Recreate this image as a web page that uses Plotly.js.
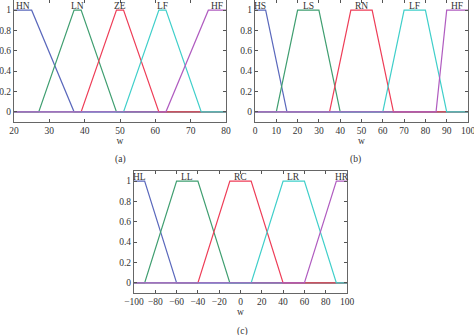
<!DOCTYPE html>
<html>
<head>
<meta charset="utf-8">
<script src="https://cdn.plot.ly/plotly-3.0.1.min.js"></script>
<style>html,body{margin:0;padding:0;background:#fff;}#chart{width:474px;height:335px;}</style>
</head>
<body>
<div id="chart"></div>
<script>
// Membership-function labels and trapezoid breakpoints [a, b, c, d]
var labelsA = ["HN", "LN", "ZE", "LF", "HF"];
var paramsA = [[20, 20, 25, 37], [27, 37, 39, 49], [39, 49, 51, 61], [51, 61, 63, 73], [63, 75, 80, 80]];
var rangeA = [20, 80];
var ticksA = [20, 30, 40, 50, 60, 70, 80];

var labelsB = ["HS", "LS", "RN", "LF", "HF"];
var paramsB = [[0, 0, 5, 15], [10, 20, 30, 40], [35, 45, 55, 65], [60, 70, 80, 90], [85, 90, 100, 100]];
var rangeB = [0, 100];
var ticksB = [0, 10, 20, 30, 40, 50, 60, 70, 80, 90, 100];

var labelsC = ["HL", "LL", "RC", "LR", "HR"];
var paramsC = [[-100, -100, -90, -60], [-90, -60, -40, -10], [-40, -10, 10, 40], [10, 40, 60, 90], [60, 90, 100, 100]];
var rangeC = [-100, 100];
var ticksC = [-100, -80, -60, -40, -20, 0, 20, 40, 60, 80, 100];

var yTicks = [0, 0.2, 0.4, 0.6, 0.8, 1];
var captions = ["(a)", "(b)", "(c)"];
var colors = ["#5a68bc", "#3f9e70", "#ee3d57", "#3fcfca", "#b05cc0"];

function trap(x, p) {
  var a = p[0], b = p[1], c = p[2], d = p[3];
  if (x < a || x > d) return 0;
  if (x >= b && x <= c) return 1;
  if (x < b) return (x - a) / (b - a);
  return (d - x) / (d - c);
}

var FONT = "Liberation Serif, Times New Roman, serif";
var FS = 9.5;
var traces = [];
var annotations = [];

function addPanel(labels, params, range, suffix) {
  params.forEach(function (p, i) {
    var pts = [range[0]].concat(p).concat([range[1]]);
    var xs = [];
    pts.forEach(function (v) { if (xs.length === 0 || xs[xs.length - 1] !== v) xs.push(v); });
    traces.push({
      type: "scatter", mode: "lines",
      x: xs, y: xs.map(function (v) { return trap(v, p); }),
      xaxis: "x" + suffix, yaxis: "y" + suffix,
      line: {color: colors[i], width: 1.2},
      hoverinfo: "skip", showlegend: false
    });
    annotations.push({
      xref: "x" + suffix, yref: "y" + suffix,
      x: (p[1] + p[2]) / 2, y: 1.045, text: labels[i],
      showarrow: false, xanchor: "center", yanchor: "middle",
      font: {family: FONT, size: FS, color: "#333"}
    });
  });
}
addPanel(labelsA, paramsA, rangeA, "");
addPanel(labelsB, paramsB, rangeB, "2");
addPanel(labelsC, paramsC, rangeC, "3");

function xAx(dom, rng, ticks, anchor) {
  return {
    domain: dom, range: rng, anchor: anchor,
    tickmode: "array", tickvals: ticks,
    ticks: "inside", ticklen: 3, tickcolor: "#555", tickwidth: 1,
    showline: true, linecolor: "#666", linewidth: 1, mirror: "ticks",
    showgrid: false, zeroline: false, fixedrange: true,
    ticklabeloverflow: "allow",
    tickfont: {family: FONT, size: FS, color: "#333"},
    title: {text: "w", standoff: 1, font: {family: FONT, size: FS, color: "#333"}},
    automargin: false
  };
}
function yAx(dom, anchor) {
  return {
    domain: dom, range: [-0.1, 1.1], anchor: anchor,
    tickmode: "array", tickvals: yTicks,
    ticks: "inside", ticklen: 3, tickcolor: "#555", tickwidth: 1,
    showline: true, linecolor: "#666", linewidth: 1, mirror: "ticks",
    showgrid: false, zeroline: false, fixedrange: true,
    ticklabeloverflow: "allow",
    tickfont: {family: FONT, size: FS, color: "#333"},
    automargin: false
  };
}

var W = 474, H = 335;
function px(a, b) { return [a / W, b / W]; }
function py(top, bottom) { return [1 - bottom / H, 1 - top / H]; }

var captionPos = [[120, 159], [355, 159], [242, 331]];
captions.forEach(function (t, i) {
  annotations.push({
    xref: "paper", yref: "paper",
    x: captionPos[i][0] / W, y: 1 - captionPos[i][1] / H,
    text: t, showarrow: false, xanchor: "center", yanchor: "middle",
    font: {family: FONT, size: FS, color: "#333"}
  });
});

var layout = {
  width: W, height: H,
  margin: {l: 0, r: 0, t: 0, b: 0},
  paper_bgcolor: "#fff", plot_bgcolor: "#fff",
  showlegend: false,
  xaxis: xAx(px(14, 226), rangeA, ticksA, "y"),
  yaxis: yAx(py(0, 122), "x"),
  xaxis2: xAx(px(255, 468), rangeB, ticksB, "y2"),
  yaxis2: yAx(py(0, 122), "x2"),
  xaxis3: xAx(px(134, 347), rangeC, ticksC, "y3"),
  yaxis3: yAx(py(171, 293), "x3"),
  annotations: annotations
};

Plotly.newPlot("chart", traces, layout, {staticPlot: true, displayModeBar: false});
</script>
</body>
</html>
